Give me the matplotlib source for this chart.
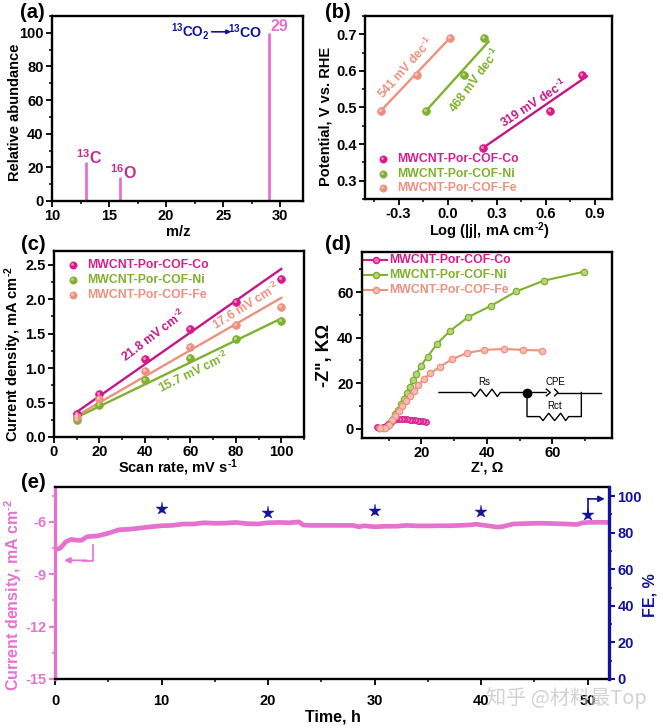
import matplotlib
matplotlib.use('Agg')
import matplotlib.pyplot as plt
from matplotlib.ticker import MultipleLocator
from matplotlib.transforms import ScaledTranslation

plt.rcParams['font.family'] = ['Liberation Sans', 'DejaVu Sans']
plt.rcParams['font.weight'] = 'bold'
plt.rcParams['axes.labelweight'] = 'bold'
plt.rcParams['axes.unicode_minus'] = False
plt.rcParams['mathtext.fontset'] = 'custom'
plt.rcParams['mathtext.rm'] = 'Liberation Sans:bold'
plt.rcParams['mathtext.bf'] = 'Liberation Sans:bold'
plt.rcParams['mathtext.default'] = 'bf'

W, H = 663, 728
CO = '#d81b8c'
NI = '#7fb02e'
FE = '#ee9080'
PINK = '#e672d0'
BLUE = '#12129a'
NAMES = ['MWCNT-Por-COF-Co', 'MWCNT-Por-COF-Ni', 'MWCNT-Por-COF-Fe']
SUP1 = r'$^{\text{-1}}$'
SUP2 = r'$^{\text{-2}}$'

# (a) mass spectrum
ms_mz = [13, 16, 29]
ms_abund = [23, 14, 100]

# (b) Tafel
tafel_co_x = [0.217, 0.626, 0.819]
tafel_ni_x = [-0.134, 0.10, 0.22]
tafel_fe_x = [-0.41, -0.185, 0.014]
tafel_y = [0.49, 0.59, 0.69]
tafel_co_y = [0.39, 0.49, 0.59]
fit_co_x, fit_co_y = [0.217, 0.85], [0.39, 0.585]
fit_ni_x, fit_ni_y = [-0.134, 0.25], [0.49, 0.68]
fit_fe_x, fit_fe_y = [-0.41, 0.014], [0.49, 0.69]

# (c) scan rate
scan = [10, 20, 40, 60, 80, 100]
cd_co = [0.33, 0.62, 1.13, 1.57, 1.96, 2.29]
cd_ni = [0.25, 0.47, 0.83, 1.14, 1.42, 1.68]
cd_fe = [0.29, 0.55, 0.96, 1.31, 1.63, 1.88]
fit_scan = [9, 100]
fit_cd_co = [0.34, 2.44]
fit_cd_ni = [0.27, 1.72]
fit_cd_fe = [0.29, 2.02]

# (d) Nyquist
zre_ni = [69.8, 57.4, 49, 41.3, 34.3, 28.8, 24.9, 21.9, 19.8, 18.5, 17.6, 16.4, 15.5,
          14.6, 13.7, 12.9, 12.1, 11.4, 10.5, 9.5, 8.3, 7.1]
zim_ni = [69, 65, 60.3, 54, 49, 43, 37.4, 31.6, 27.5, 24, 21.3, 18.4, 15.7,
          13.2, 10.7, 8.4, 6.3, 4.4, 2.6, 1.2, 0.4, 0.4]
zre_fe = [56.9, 51, 45.3, 39.1, 33.9, 29.5, 25.7, 22.8, 20.7, 19.1, 17.8, 16.5, 15.3,
          14.2, 13.1, 12.1, 11.2, 10.1, 8.9, 7.5]
zim_fe = [34.3, 34.6, 35, 34.6, 33.2, 30.6, 27.2, 24.3, 21.8, 19.1, 16.6, 14.4, 12.2,
          10, 7.9, 5.7, 3.7, 1.8, 0.4, 0.4]
zre_co = [21.3, 20.5, 19.7, 18.9, 18.1, 17.3, 16.4, 15.6, 14.8, 14, 13.2, 12.4, 11.6,
          10.7, 9.9, 9.1, 8.3, 7.3, 6.5]
zim_co = [2.9, 3.2, 3.4, 3.5, 3.7, 3.8, 4, 4.1, 4.3, 4.3, 4.3, 4.1, 3.7,
          2.9, 2.1, 1.3, 0.7, 0.4, 0.7]

# (e) stability
time_h = [0, 0.5, 1, 1.5, 2, 2.5, 3, 4, 5, 6, 7, 8, 9, 10, 11, 12, 13, 14, 15, 16, 17, 18,
          19, 20, 21, 22, 22.9, 23.3, 24, 25, 26, 27, 28, 28.5, 29, 30, 31, 32, 33, 34, 35,
          36, 37, 38, 39, 39.5, 40, 41, 41.5, 42, 43, 44, 45, 46, 47, 48, 49, 49.5, 50, 51, 52]
current = [-7.6, -7.5, -7.15, -7.0, -7.05, -7.05, -6.85, -6.8, -6.65, -6.45, -6.42, -6.35,
           -6.28, -6.22, -6.2, -6.12, -6.12, -6.05, -6.08, -6.07, -6.03, -6.1, -6.12, -6.05,
           -6.03, -6.05, -6.0, -6.18, -6.2, -6.2, -6.2, -6.2, -6.2, -6.28, -6.22, -6.28,
           -6.25, -6.25, -6.2, -6.23, -6.23, -6.22, -6.22, -6.2, -6.17, -6.13, -6.17, -6.25,
           -6.3, -6.27, -6.12, -6.1, -6.08, -6.08, -6.1, -6.12, -6.15, -6.05, -6.03, -6.02, -6.03]
fe_time = [10, 20, 30, 40, 50]
fe_vals = [92.9, 90.9, 91.8, 91.2, 89.8]


def make_axes(fig, l, t, r, b):
    ax = fig.add_axes([l / W, 1 - b / H, (r - l) / W, (b - t) / H])
    for s in ax.spines.values():
        s.set_linewidth(1.7)
    ax.tick_params(which='major', length=4, width=1.3, labelsize=10.5, pad=2)
    ax.tick_params(which='minor', length=2.5, width=1.1)
    return ax


def label_at(ax, axis, text, x, y, size=10.5, color='black'):
    # place an axis label at a pixel position of the figure
    inv = ax.transAxes.inverted()
    pos = inv.transform((x, H - y))
    lab = ax.xaxis.label if axis == 'x' else ax.yaxis.label
    lab.set_text(text)
    lab.set_fontsize(size)
    lab.set_color(color)
    (ax.xaxis if axis == 'x' else ax.yaxis).set_label_coords(pos[0], pos[1])
    lab.set_va('center')


def balls(ax, x, y, color, size=5.6):
    ax.plot(x, y, 'o', color=color, ms=size, mec=color, mew=0.5, ls='none', zorder=4)
    shift = ax.transData + ScaledTranslation(-1 / 100, 1 / 100, ax.figure.dpi_scale_trans)
    ax.plot(x, y, 'o', color='white', alpha=0.45, ms=size * 0.4, mew=0, ls='none', transform=shift, zorder=5)


fig = plt.figure(figsize=(W / 100, H / 100), dpi=100)

# ---- (a)
ax_a = make_axes(fig, 52, 16, 303, 201)
ax_a.vlines(ms_mz, 0, ms_abund, color=PINK, lw=2)
ax_a.set_xlim(10, 32)
ax_a.set_ylim(0, 110)
ax_a.xaxis.set_major_locator(MultipleLocator(5))
ax_a.xaxis.set_minor_locator(MultipleLocator(2.5))
ax_a.yaxis.set_major_locator(MultipleLocator(20))
ax_a.yaxis.set_minor_locator(MultipleLocator(10))
ax_a.text(13.25, 26, '$^{13}$C', color='#c42c8e', fontsize=11.5, ha='center', va='center')
ax_a.text(16.3, 16.6, '$^{16}$O', color='#c42c8e', fontsize=11.5, ha='center', va='center')
ax_a.text(29.9, 104, '29', color=PINK, fontsize=11.5, ha='center', va='center')
ax_a.text(20.4, 100.6, '$^{13}$CO$_{2}$', color=BLUE, fontsize=9.8, va='center')
ax_a.text(25.4, 100.6, '$^{13}$CO', color=BLUE, fontsize=10.2, va='center')
ax_a.annotate('', xy=(25.7, 100.6), xytext=(24.0, 100.6),
              arrowprops=dict(arrowstyle='-|>', color=BLUE, lw=1.2, mutation_scale=6, shrinkA=0, shrinkB=0))
label_at(ax_a, 'x', 'm/z', 178, 232)
label_at(ax_a, 'y', 'Relative abundance', 15, 112)

# ---- (b)
ax_b = make_axes(fig, 365, 16, 612, 199)
ax_b.plot(fit_co_x, fit_co_y, color='#c4168a', lw=1.7)
ax_b.plot(fit_ni_x, fit_ni_y, color=NI, lw=1.7)
ax_b.plot(fit_fe_x, fit_fe_y, color=FE, lw=1.7)
balls(ax_b, tafel_co_x, tafel_co_y, CO)
balls(ax_b, tafel_ni_x, tafel_y, NI)
balls(ax_b, tafel_fe_x, tafel_y, FE)
ax_b.set_xlim(-0.505, 1.004)
ax_b.set_ylim(0.25, 0.75)
ax_b.xaxis.set_major_locator(MultipleLocator(0.3))
ax_b.xaxis.set_minor_locator(MultipleLocator(0.15))
ax_b.yaxis.set_major_locator(MultipleLocator(0.1))
ax_b.yaxis.set_minor_locator(MultipleLocator(0.05))
ax_b.text(-0.254, 0.607, '541 mV dec' + SUP1, color=FE, fontsize=8.8, rotation=48, ha='center', va='center')
ax_b.text(0.167, 0.575, '468 mV dec' + SUP1, color=NI, fontsize=8.8, rotation=53, ha='center', va='center')
ax_b.text(0.526, 0.512, '319 mV dec' + SUP1, color='#c4168a', fontsize=8.8, rotation=33, ha='center', va='center')
for name, y, col in zip(NAMES, [0.36, 0.319, 0.28], ['#d0218f', NI, FE]):
    ax_b.text(-0.31, y, name, color=col, fontsize=8.8, va='center')
for y, col in zip([0.36, 0.319, 0.28], [CO, NI, FE]):
    balls(ax_b, [-0.396], [y], col, size=5.2)
label_at(ax_b, 'x', 'Log (|j|, mA cm' + SUP2 + ')', 489, 231)
label_at(ax_b, 'y', 'Potential, V vs. RHE', 325, 116)

# ---- (c)
ax_c = make_axes(fig, 54, 251, 304, 437)
ax_c.plot(fit_scan, fit_cd_co, color='#c4168a', lw=1.7)
ax_c.plot(fit_scan, fit_cd_fe, color=FE, lw=1.7)
ax_c.plot(fit_scan, fit_cd_ni, color=NI, lw=1.7)
balls(ax_c, scan, cd_co, CO)
balls(ax_c, scan, cd_ni, NI)
balls(ax_c, scan, cd_fe, FE)
ax_c.set_xlim(0, 110)
ax_c.set_ylim(0, 2.7)
ax_c.xaxis.set_major_locator(MultipleLocator(20))
ax_c.xaxis.set_minor_locator(MultipleLocator(10))
ax_c.yaxis.set_major_locator(MultipleLocator(0.5))
ax_c.yaxis.set_minor_locator(MultipleLocator(0.25))
ax_c.text(44, 1.47, '21.8 mV cm' + SUP2, color='#c4168a', fontsize=8.8, rotation=37, ha='center', va='center')
ax_c.text(84.6, 1.90, '17.6 mV cm' + SUP2, color=FE, fontsize=8.8, rotation=32, ha='center', va='center')
ax_c.text(61.3, 0.947, '15.7 mV cm' + SUP2, color=NI, fontsize=8.8, rotation=26, ha='center', va='center')
for name, y, col in zip(NAMES, [2.49, 2.28, 2.06], ['#d0218f', NI, FE]):
    ax_c.text(14.6, y, name, color=col, fontsize=8.8, va='center')
for y, col in zip([2.49, 2.28, 2.06], [CO, NI, FE]):
    balls(ax_c, [8.4], [y], col, size=5.2)
label_at(ax_c, 'x', 'Scan rate, mV s' + SUP1, 178, 468)
label_at(ax_c, 'y', 'Current density, mA cm' + SUP2, 13, 354)

# ---- (d)
ax_d = make_axes(fig, 362, 252, 612, 438)
ax_d.plot(zre_ni, zim_ni, '-o', color=NI, lw=1.5, ms=4.6, mfc='#b5d57c', mec=NI, mew=0.9)
ax_d.plot(zre_co, zim_co, '-o', color=CO, lw=1.5, ms=4, mfc='#ee6cb8', mec=CO, mew=0.9)
ax_d.plot(zre_fe, zim_fe, '-o', color=FE, lw=1.5, ms=4.6, mfc='#f6bdb2', mec=FE, mew=0.9)
ax_d.set_xlim(1.9, 78.2)
ax_d.set_ylim(-4.1, 77.6)
ax_d.xaxis.set_major_locator(MultipleLocator(20))
ax_d.xaxis.set_minor_locator(MultipleLocator(10))
ax_d.yaxis.set_major_locator(MultipleLocator(20))
ax_d.yaxis.set_minor_locator(MultipleLocator(10))
for name, Y, col, mf in zip(NAMES, [92, 137, 182], [CO, NI, FE], ['#ee6cb8', '#b5d57c', '#f6bdb2']):
    yf = (623 - Y) / 556
    ax_d.plot([0.01, 0.10], [yf, yf], '-', color=col, lw=1.5, transform=ax_d.transAxes)
    ax_d.plot([0.055], [yf], 'o', color=col, ms=4.4, mfc=mf, mec=col, transform=ax_d.transAxes)
    ax_d.text(0.11, yf, name, color=col, fontsize=8.8, va='center', transform=ax_d.transAxes)


def circuit(X, Y, **kw):
    # circuit sketch, coordinates taken in a 3x crop of the panel
    ax_d.plot([(v - 97) / 750 for v in X], [(623 - v) / 556 for v in Y], color='black',
              lw=1, transform=ax_d.transAxes, **kw)


circuit([328, 425, 435, 452, 470, 487, 503, 512, 650], [487, 487, 499, 477, 499, 477, 499, 487, 487])
circuit([650, 662, 650], [477, 487, 497])
circuit([675, 685, 675], [477, 487, 497])
circuit([685, 815], [487, 487])
circuit([592, 592, 630, 640, 657, 675, 693, 708, 717, 755, 755],
        [487, 559, 559, 571, 549, 571, 549, 571, 559, 559, 487])
ax_d.plot([(592 - 97) / 750], [(623 - 487) / 556], 'o', color='black', ms=6, transform=ax_d.transAxes)
for s, X, Y in [('Rs', 465, 455), ('CPE', 677, 455), ('Rct', 675, 527)]:
    ax_d.text((X - 97) / 750, (623 - Y) / 556, s, fontsize=7, fontweight='normal', ha='center', va='center',
              transform=ax_d.transAxes)
label_at(ax_d, 'x', "Z', Ω", 487, 468)
label_at(ax_d, 'y', '-Z", KΩ', 325, 355, size=13)

# ---- (e)
ax_e = make_axes(fig, 55, 487, 609, 679)
ax_e.plot(time_h, current, color=PINK, lw=3.4, solid_joinstyle='round')
ax_e.set_xlim(0, 52)
ax_e.set_ylim(-15, -4)
ax_e.xaxis.set_major_locator(MultipleLocator(10))
ax_e.xaxis.set_minor_locator(MultipleLocator(5))
ax_e.tick_params(axis='x', which='major', pad=7)
ax_e.set_yticks([-15, -12, -9, -6])
ax_e.set_yticks([-13.5, -10.5, -7.5, -4.5], minor=True)
ax_e.tick_params(axis='y', which='both', colors=PINK)
ax_e.spines['left'].set_color(PINK)
ax_e.spines['left'].set_linewidth(2.4)
ax_e.spines['right'].set_visible(False)

ax_f = ax_e.twinx()
ax_f.plot(fe_time, fe_vals, '*', color=BLUE, ms=9.5, mew=0.3)
ax_f.set_ylim(0, 105)
ax_f.yaxis.set_major_locator(MultipleLocator(20))
ax_f.yaxis.set_minor_locator(MultipleLocator(10))
ax_f.tick_params(axis='y', which='major', length=4, width=1.5, labelsize=10.5, pad=2, colors=BLUE)
ax_f.tick_params(axis='y', which='minor', length=2.5, width=1.2, colors=BLUE)
for s in ax_f.spines.values():
    s.set_visible(False)
ax_f.spines['right'].set_visible(True)
ax_f.spines['right'].set_color(BLUE)
ax_f.spines['right'].set_linewidth(2.4)

# direction arrows
ax_e.plot([3.6, 3.6, 2.5], [-7.3, -8.22, -8.22], color=PINK, lw=1.2)
ax_e.annotate('', xy=(0.85, -8.2), xytext=(3.0, -8.2),
              arrowprops=dict(arrowstyle='-|>', color=PINK, lw=1.2, mutation_scale=9, shrinkA=0, shrinkB=0))
ax_f.plot([50, 50], [90, 98.5], color=BLUE, lw=1.2)
ax_f.annotate('', xy=(51.6, 98.5), xytext=(50, 98.5),
              arrowprops=dict(arrowstyle='-|>', color=BLUE, lw=1.2, mutation_scale=9, shrinkA=0, shrinkB=0))

label_at(ax_e, 'x', 'Time, h', 333, 717, size=11.5)
label_at(ax_e, 'y', 'Current density, mA cm' + SUP2, 13, 595, size=11.5, color=PINK)
label_at(ax_f, 'y', 'FE, %', 650, 595, size=11.5, color=BLUE)

# panel letters
for s, x, y in [('(a)', 32, 12), ('(b)', 338, 12), ('(c)', 33, 245), ('(d)', 338, 245), ('(e)', 33, 483)]:
    fig.text(x / W, 1 - y / H, s, fontsize=14.5, ha='center', va='center')

# watermark
fig.text(566 / W, 1 - 698 / H, '知乎 @材料最Top', fontsize=14.5, color='#c4c4c4', alpha=0.75, fontweight='normal',
         family=['Noto Sans CJK SC', 'DejaVu Sans'], ha='center', va='center', zorder=10)

fig.savefig('out.png', dpi=100)
